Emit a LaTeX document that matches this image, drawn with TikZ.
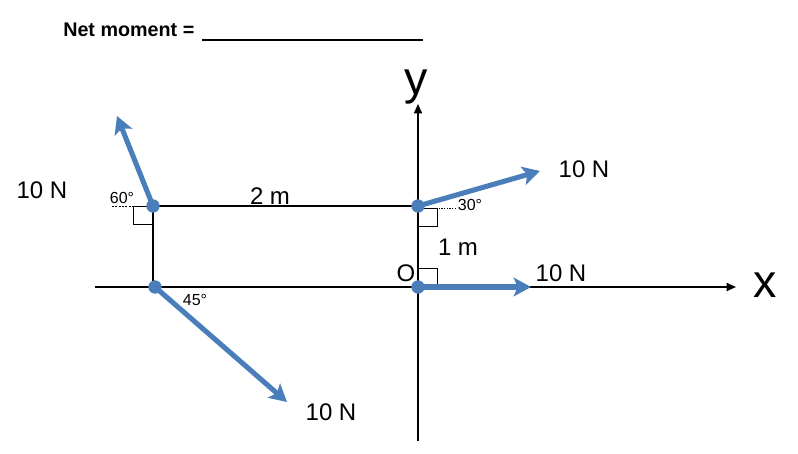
\documentclass[tikz,border=0pt]{standalone}
\usepackage{fontspec}
\setmainfont{Liberation Sans}
\usetikzlibrary{arrows.meta}
\definecolor{fblue}{RGB}{74,126,187}
\begin{document}
\begin{tikzpicture}[x=0.75pt,y=-0.75pt,
  force/.style={draw=fblue,line width=3.8pt,-{Stealth[length=13pt,width=14pt,inset=3pt]}},
  dot/.style={circle,fill=fblue,inner sep=0pt,minimum size=10pt},
  frame/.style={draw=black,line width=1.1pt},
  axis/.style={draw=black,line width=1.3pt,-{Triangle[length=7pt,width=6pt]}},
  lbl/.style={font=\fontsize{18pt}{20pt}\selectfont,inner sep=0pt},
  ang/.style={font=\fontsize{12pt}{14pt}\selectfont,inner sep=0pt},
  sq/.style={draw=black,line width=0.6pt}]
\useasboundingbox (0,0) rectangle (798,453);
% title
\node[font=\bfseries\fontsize{14.8pt}{16pt}\selectfont,inner sep=0pt,anchor=west] (title) at (63,30) {Net moment =};
\coordinate (ul1) at (202,40);
\coordinate (ul2) at (423,40);
\draw[line width=1.1pt] (ul1) -- (ul2);
% points
\coordinate (A) at (153,206);
\coordinate (B) at (418,206);
\coordinate (O) at (418,287);
\coordinate (C) at (155,287);
% frame
\draw[frame] (A) -- (B);
\draw[frame] (A) -- (153,287);
% axes
\coordinate (xs) at (95,287);
\coordinate (xe) at (736,287);
\coordinate (ys) at (418,441);
\coordinate (ye) at (418,104);
\draw[axis] (xs) -- (xe);
\draw[axis] (ys) -- (ye);
\node[font=\fontsize{35pt}{37pt}\selectfont,inner sep=0pt] (xl) at (765,285) {x};
\node[font=\fontsize{35pt}{37pt}\selectfont,inner sep=0pt] (yl) at (416,87) {y};
% right angle squares
\draw[sq] (133,206) rectangle (153,224);
\draw[sq] (418,208) rectangle (437,226);
\draw[sq] (418,268) rectangle (437,287);
% dashed reference lines
\draw[black,line width=0.5pt,dash pattern=on 1.5pt off 1pt] (112,206) -- (150,206);
\draw[black,line width=0.5pt,dash pattern=on 1pt off 1pt] (420,208) -- (455,208);
% forces
\coordinate (Ae) at (117,116);
\coordinate (Be) at (540,171);
\coordinate (Oe) at (531,287);
\coordinate (Ce) at (287,402);
\draw[force] (A) -- (Ae);
\draw[force] (B) -- (Be);
\draw[force] (O) -- (Oe);
\draw[force] (C) -- (Ce);
\node[dot] (dA) at (A) {};
\node[dot] (dB) at (B) {};
\node[dot] (dO) at (O) {};
\node[dot] (dC) at (C) {};
% labels
\node[lbl] (f1) at (42,190) {10 N};
\node[lbl] (f2) at (584,169) {10 N};
\node[lbl] (f3) at (561,273) {10 N};
\node[lbl] (f4) at (331,412) {10 N};
\node[lbl] (d1) at (270,196) {2 m};
\node[lbl] (d2) at (458,247) {1 m};
\node[lbl] (o) at (406,273) {O};
\node[ang] (a60) at (122,198) {60\textdegree};
\node[ang] (a30) at (470,205) {30\textdegree};
\node[ang] (a45) at (195,300) {45\textdegree};
\end{tikzpicture}
\end{document}
